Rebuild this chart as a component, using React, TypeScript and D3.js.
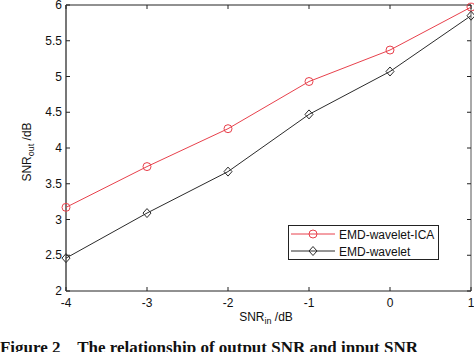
import React, { useRef, useEffect } from 'react';
import * as d3 from 'd3';

// 数据
const snrIn = [-4, -3, -2, -1, 0, 1];
const emdWaveletIca = [3.17, 3.74, 4.27, 4.93, 5.37, 5.97];
const emdWavelet = [2.46, 3.09, 3.67, 4.47, 5.07, 5.85];
const yTicks = [2, 2.5, 3, 3.5, 4, 4.5, 5, 5.5, 6];
const seriesNames = ['EMD-wavelet-ICA', 'EMD-wavelet'];

export default function App() {
  const ref = useRef<SVGSVGElement>(null);

  useEffect(() => {
    const svg = d3.select(ref.current);
    svg.selectAll('*').remove();
    const w = 474, h = 352;
    const left = 66, right = 471, top = 5, bottom = 291;
    const font = 'Arial, "Liberation Sans", sans-serif';

    const x = d3.scaleLinear().domain([-4, 1]).range([left, right]);
    const y = d3.scaleLinear().domain([2, 6]).range([bottom, top]);

    svg.append('rect').attr('width', w).attr('height', h).attr('fill', '#fff');

    // 坐标框
    svg.append('line').attr('x1', left).attr('x2', right).attr('y1', top).attr('y2', top)
      .attr('stroke', '#222').attr('stroke-width', 1);
    svg.append('line').attr('x1', left).attr('x2', right).attr('y1', bottom).attr('y2', bottom)
      .attr('stroke', '#222').attr('stroke-width', 1);
    svg.append('line').attr('x1', right).attr('x2', right).attr('y1', top).attr('y2', bottom)
      .attr('stroke', '#555').attr('stroke-width', 1);
    svg.append('line').attr('x1', left).attr('x2', left).attr('y1', top).attr('y2', bottom)
      .attr('stroke', '#777').attr('stroke-width', 2);

    // x 刻度
    snrIn.forEach(v => {
      const px = x(v);
      svg.append('line').attr('x1', px).attr('x2', px).attr('y1', bottom).attr('y2', bottom - 4)
        .attr('stroke', '#222');
      svg.append('line').attr('x1', px).attr('x2', px).attr('y1', top).attr('y2', top + 4)
        .attr('stroke', '#222');
      svg.append('text').attr('x', px).attr('y', bottom + 16)
        .attr('text-anchor', 'middle').attr('font-family', font).attr('font-size', 12)
        .attr('fill', '#111').text(v);
    });

    // y 刻度
    yTicks.forEach(v => {
      const py = y(v);
      svg.append('line').attr('x1', left).attr('x2', left + 4).attr('y1', py).attr('y2', py)
        .attr('stroke', '#222');
      svg.append('line').attr('x1', right).attr('x2', right - 4).attr('y1', py).attr('y2', py)
        .attr('stroke', '#222');
      svg.append('text').attr('x', left - 4).attr('y', py + 4)
        .attr('text-anchor', 'end').attr('font-family', font).attr('font-size', 12)
        .attr('fill', '#111').text(v);
    });

    // 轴标题
    const xl = svg.append('text').attr('x', 266).attr('y', 321)
      .attr('text-anchor', 'middle').attr('font-family', font).attr('font-size', 12).attr('fill', '#111');
    xl.append('tspan').text('SNR');
    xl.append('tspan').attr('font-size', 9).attr('dy', 3).text('in');
    xl.append('tspan').attr('dy', -3).text(' /dB');

    const yl = svg.append('text').attr('transform', 'translate(31,152) rotate(-90)')
      .attr('text-anchor', 'middle').attr('font-family', font).attr('font-size', 12).attr('fill', '#111');
    yl.append('tspan').text('SNR');
    yl.append('tspan').attr('font-size', 9).attr('dy', 3).text('out');
    yl.append('tspan').attr('dy', -3).text(' /dB');

    const colors = ['#e8414c', '#2b2b2b'];
    const series = [emdWaveletIca, emdWavelet];
    const line = d3.line<number>().x((d, i) => x(snrIn[i])).y(d => y(d));

    const marker = (g: any, k: number, cx: number, cy: number) => {
      if (k === 0) {
        g.append('circle').attr('cx', cx).attr('cy', cy).attr('r', 4)
          .attr('fill', 'none').attr('stroke', colors[k]).attr('stroke-width', 1);
      } else {
        g.append('path').attr('d', `M${cx},${cy - 4.5}L${cx + 4},${cy}L${cx},${cy + 4.5}L${cx - 4},${cy}Z`)
          .attr('fill', 'none').attr('stroke', colors[k]).attr('stroke-width', 1);
      }
    };

    series.forEach((s, k) => {
      svg.append('path').attr('d', line(s)).attr('fill', 'none')
        .attr('stroke', colors[k]).attr('stroke-width', 1);
      s.forEach((v, i) => marker(svg, k, x(snrIn[i]), y(v)));
    });

    // 图例
    const lg = svg.append('g');
    lg.append('rect').attr('x', 288.5).attr('y', 225.5).attr('width', 150).attr('height', 34)
      .attr('fill', '#fff').attr('stroke', '#222').attr('stroke-width', 1);
    seriesNames.forEach((name, k) => {
      const ly = 234 + k * 17;
      lg.append('line').attr('x1', 291).attr('x2', 335).attr('y1', ly).attr('y2', ly)
        .attr('stroke', colors[k]).attr('stroke-width', 1);
      marker(lg, k, 313, ly);
      lg.append('text').attr('x', 339).attr('y', ly + 4.5).attr('font-family', font)
        .attr('font-size', 12).attr('fill', '#111').text(name);
    });

    // 图题
    svg.append('text').attr('x', 0).attr('y', 353).attr('font-family', '"Liberation Serif", "DejaVu Serif", serif')
      .attr('font-size', 17).attr('font-weight', 'bold').attr('fill', '#111')
      .attr('xml:space', 'preserve')
      .attr('textLength', 418).attr('lengthAdjust', 'spacing')
      .text('Figure 2    The relationship of output SNR and input SNR');
  }, []);

  return (
    <svg ref={ref} width={474} height={352}
      style={{ position: 'absolute', top: 0, left: 0, display: 'block' }} />
  );
}
